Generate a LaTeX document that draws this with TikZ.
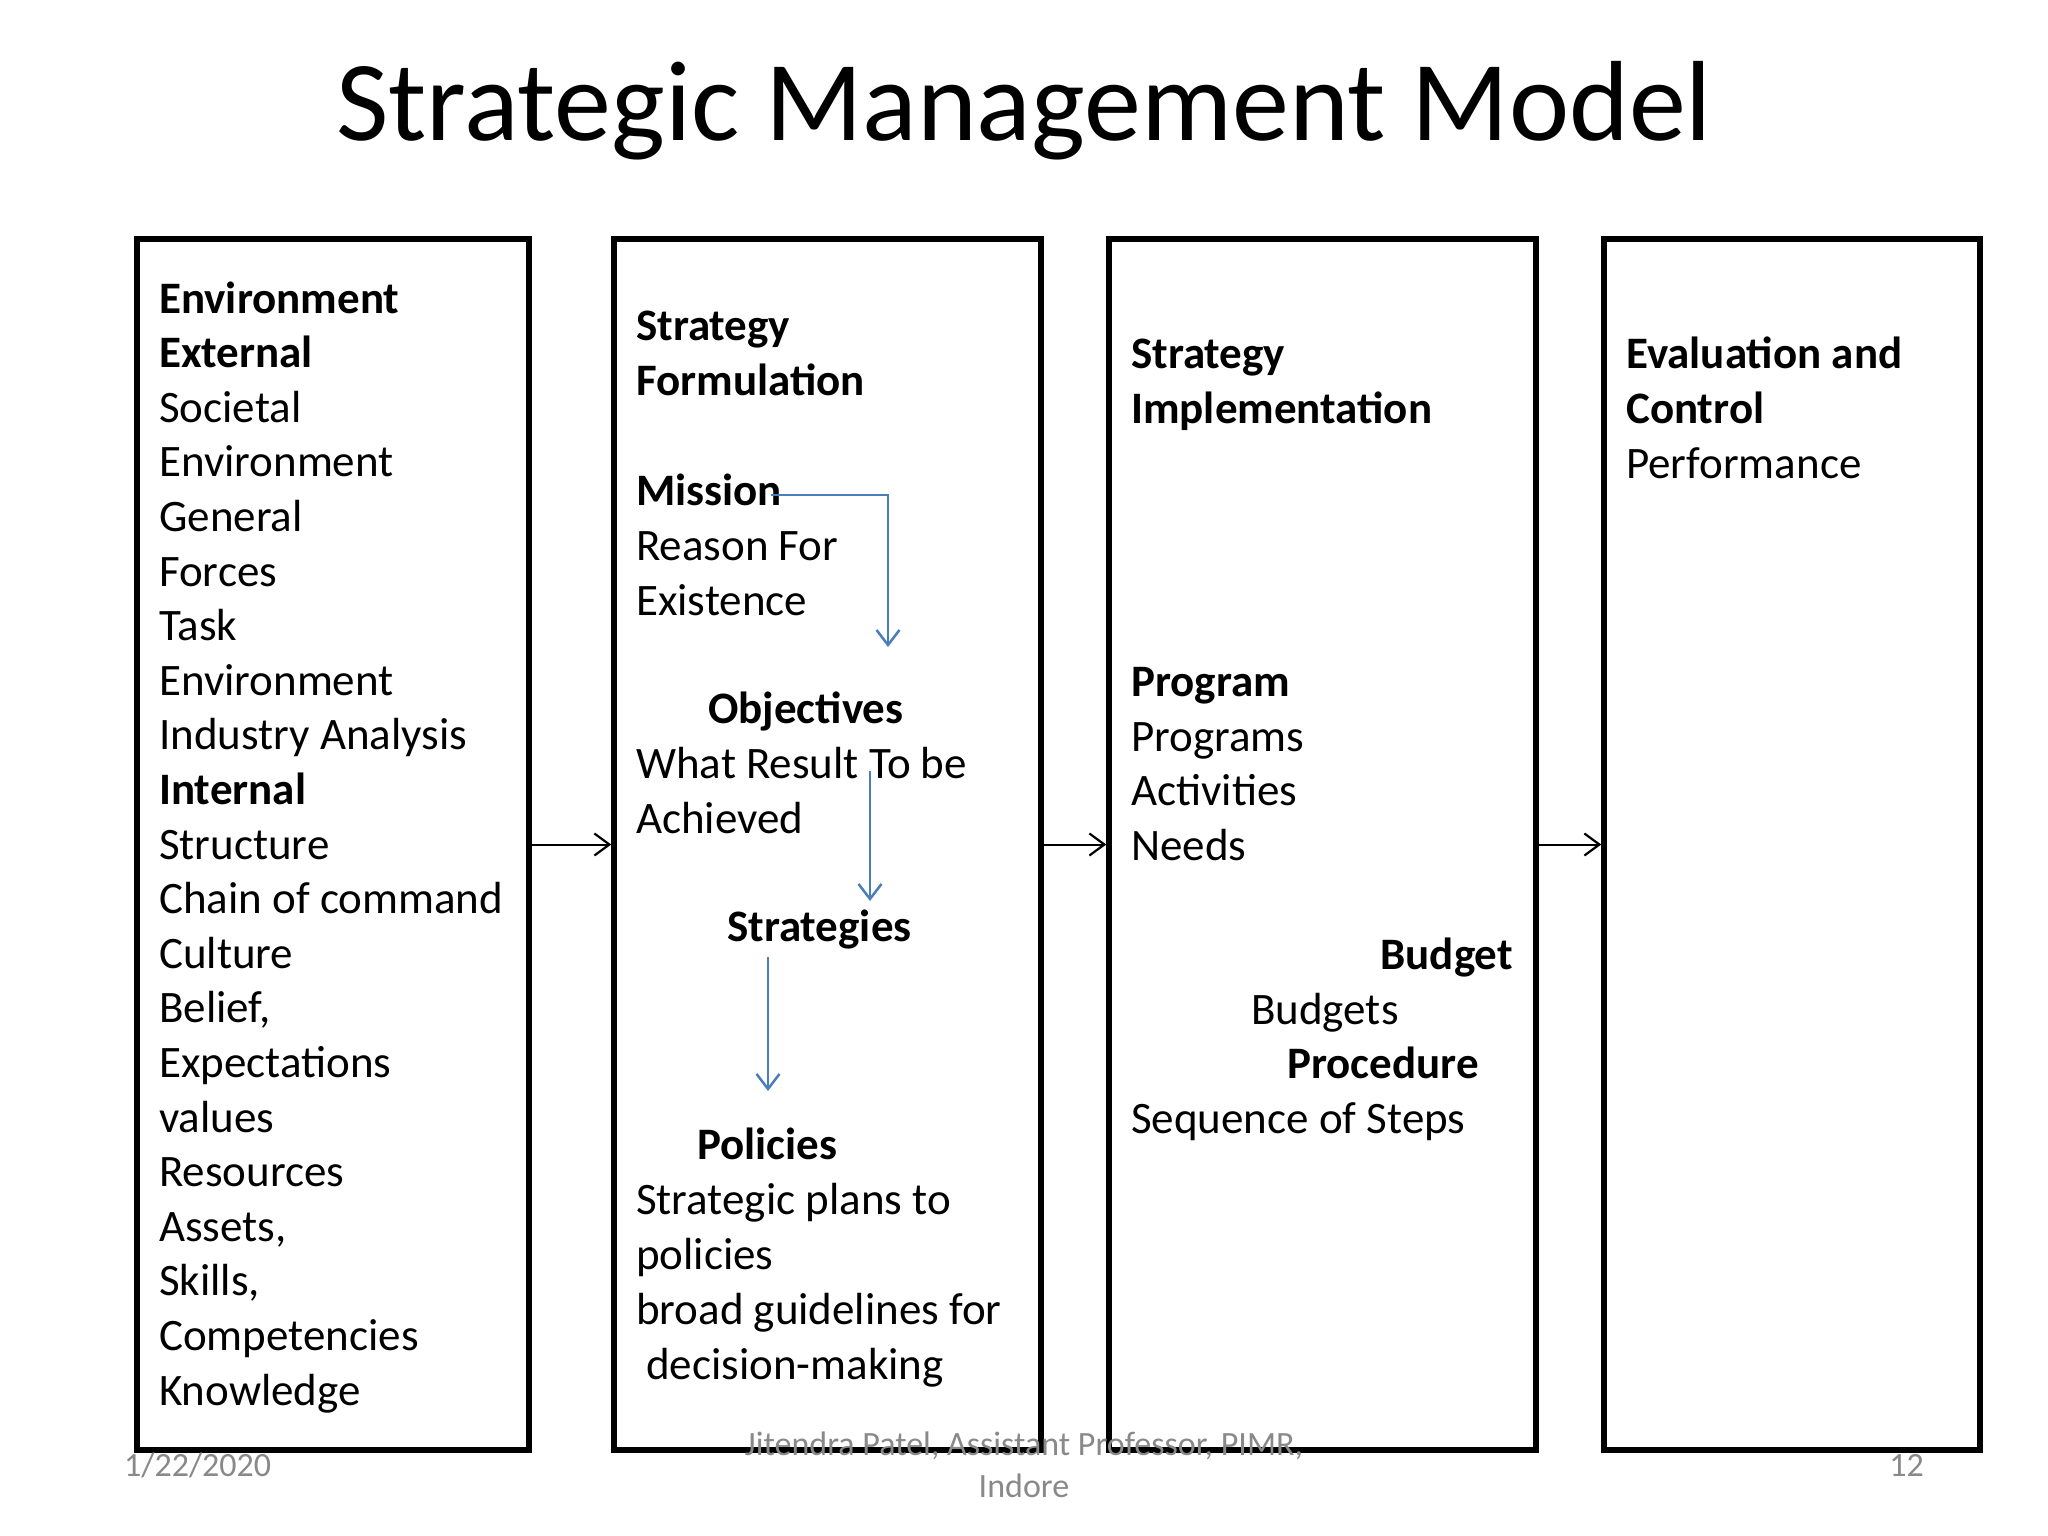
\documentclass[tikz,border=0pt]{standalone}
\usepackage{fontspec}
\setmainfont{Carlito}
\usetikzlibrary{arrows.meta}
\definecolor{arrowblue}{HTML}{4A7EBB}
\definecolor{footgray}{HTML}{898989}
\begin{document}
\begin{tikzpicture}[x=1pt,y=-1pt,
  panel/.style={draw=black, line width=5.5pt, minimum width=#1, minimum height=1211pt, inner sep=0pt},
  body/.style={inner sep=0pt, anchor=base west, font=\fontsize{45}{54}\selectfont},
  flow/.style={-{Straight Barb[length=15pt,width=22pt,line width=2.2pt]}, line width=2pt},
  sub/.style={draw=arrowblue, line width=2.5pt, -{Straight Barb[length=15pt,width=23pt]}},
  foot/.style={text=footgray, inner sep=0pt, font=\fontsize{34}{40}\selectfont}]
\useasboundingbox (0,0) rectangle (2048,1536);
\fill[white] (0,0) rectangle (2048,1536);

% title
\node[inner sep=0pt, anchor=base, font=\fontsize{114}{130}\selectfont] (title) at (1024,141) {Strategic Management Model};

% panels
\node[panel=392pt] (p1) at (333,844.5) {};
\node[panel=427pt] (p2) at (827.5,844.5) {};
\node[panel=427pt] (p3) at (1322.5,844.5) {};
\node[panel=376pt] (p4) at (1792,844.5) {};

\draw[flow] (p1.east) -- (p2.west);
\draw[flow] (p2.east) -- (p3.west);
\draw[flow] (p3.east) -- (p4.west);

% panel 1
\foreach \t [count=\i from 0] in {{\textbf{Environment}},{\textbf{External}},{Societal},{Environment},{General},{Forces},{Task},{Environment},{Industry Analysis},{\textbf{Internal}},{Structure},{Chain of command},{Culture},{Belief,},{Expectations},{values},{Resources},{Assets,},{Skills,},{Competencies},{Knowledge}}
  \node[body] (a\i) at (159,313+\i*54.6) {\t};

% panel 2
\node[body] (f1) at (636,340.5) {\textbf{Strategy}};
\node[body] (f2) at (636,395.4) {\textbf{Formulation}};
\node[body] (mission) at (636,505) {\textbf{Mission}};
\node[body] (f3) at (636,560) {Reason For};
\node[body] (f4) at (636,615) {Existence};
\node[body] (objectives) at (708,723) {\textbf{Objectives}};
\node[body] (f5) at (636,778) {What Result To be};
\node[body] (f6) at (636,833) {Achieved};
\node[body] (strategies) at (727,941) {\textbf{Strategies}};
\node[body] (policies) at (697,1159) {\textbf{Policies}};
\node[body] (f7) at (636,1214) {Strategic plans to};
\node[body] (f8) at (636,1269) {policies};
\node[body] (f9) at (636,1324) {broad guidelines for};
\node[body] (f10) at (646,1379) {decision-making};

% blue sub-arrows
\coordinate (m0) at (771,495);
\coordinate (m1) at (888,647);
\coordinate (o0) at (870,771);
\coordinate (o1) at (870,901);
\coordinate (s0) at (768,957);
\coordinate (s1) at (768,1091);
\draw[sub] (m0) -| (m1);
\draw[sub] (o0) -- (o1);
\draw[sub] (s0) -- (s1);

% panel 3
\node[body] (i1) at (1131,368) {\textbf{Strategy}};
\node[body] (i2) at (1131,423) {\textbf{Implementation}};
\node[body] (program) at (1131,696) {\textbf{Program}};
\node[body] (i3) at (1131,751) {Programs};
\node[body] (i4) at (1131,805) {Activities};
\node[body] (i5) at (1131,860) {Needs};
\node[body, anchor=base east] (budget) at (1513,969) {\textbf{Budget}};
\node[body] (i6) at (1251,1024) {Budgets};
\node[body] (procedure) at (1287,1078) {\textbf{Procedure}};
\node[body] (i7) at (1131,1133) {Sequence of Steps};

% panel 4
\node[body] (e1) at (1626,368) {\textbf{Evaluation and}};
\node[body] (e2) at (1626,423) {\textbf{Control}};
\node[body] (e3) at (1626,478) {Performance};

% footer
\node[foot, anchor=base west] (date) at (124,1476) {1/22/2020};
\node[foot, anchor=base] (auth1) at (1024,1455) {Jitendra Patel, Assistant Professor, PIMR,};
\node[foot, anchor=base] (auth2) at (1024,1497) {Indore};
\node[foot, anchor=base east] (page) at (1924,1476) {12};
\end{tikzpicture}
\end{document}
